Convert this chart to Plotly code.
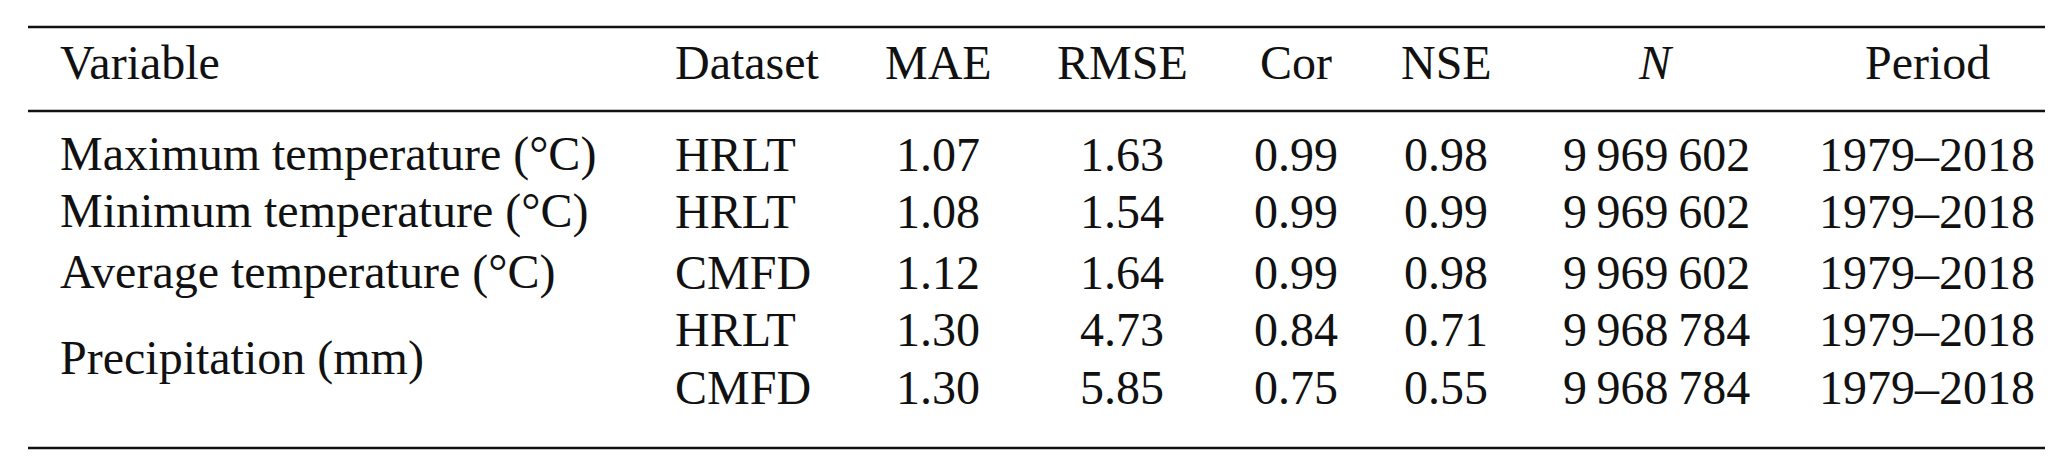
import plotly.graph_objects as go

# table contents
headers = ["Variable", "Dataset", "MAE", "RMSE", "Cor", "NSE", "<i>N</i>", "Period"]
variables = ["Maximum temperature (°C)", "Minimum temperature (°C)", "Average temperature (°C)",
             "Precipitation (mm)", ""]
datasets = ["HRLT", "HRLT", "CMFD", "HRLT", "CMFD"]
mae = ["1.07", "1.08", "1.12", "1.30", "1.30"]
rmse = ["1.63", "1.54", "1.64", "4.73", "5.85"]
cor = ["0.99", "0.99", "0.99", "0.84", "0.75"]
nse = ["0.98", "0.99", "0.98", "0.71", "0.55"]
n_obs = ["9\u2009969\u2009602", "9\u2009969\u2009602", "9\u2009969\u2009602",
         "9\u2009968\u2009784", "9\u2009968\u2009784"]
period = ["1979–2018"] * 5

W, H = 2067, 459
FONT = dict(family="Liberation Serif, Times New Roman, serif", size=48, color="#111111")

col_x = [50, 665, 930, 1114, 1288, 1438, 1648, 1919]
col_anchor = ["left", "left", "center", "center", "center", "center", "center", "center"]
header_y = 54
row_y = [146, 203, 264, 321, 379]
precip_y = 350

ann = []
for h, x, a in zip(headers, col_x, col_anchor):
    ann.append(dict(x=x, y=header_y, text=h, xanchor=a))

columns = [variables, datasets, mae, rmse, cor, nse, n_obs, period]
for ci, col in enumerate(columns):
    for ri, val in enumerate(col):
        if not val:
            continue
        y = row_y[ri]
        if ci == 0 and val.startswith("Precipitation"):
            y = precip_y
        ann.append(dict(x=col_x[ci], y=y, text=val, xanchor=col_anchor[ci]))

for a in ann:
    a.update(xref="x", yref="y", yanchor="middle", showarrow=False, font=FONT)

rules = [19, 103, 440]
shapes = [dict(type="line", xref="x", yref="y", x0=20, x1=2037, y0=r, y1=r,
               line=dict(color="#111111", width=2.5)) for r in rules]

fig = go.Figure(
    layout=go.Layout(
        width=W, height=H,
        margin=dict(l=0, r=0, t=0, b=0),
        paper_bgcolor="white", plot_bgcolor="white",
        xaxis=dict(range=[0, W], visible=False),
        yaxis=dict(range=[H, 0], visible=False),
        annotations=ann,
        shapes=shapes,
        showlegend=False,
    )
)

fig.write_html("out.html")
